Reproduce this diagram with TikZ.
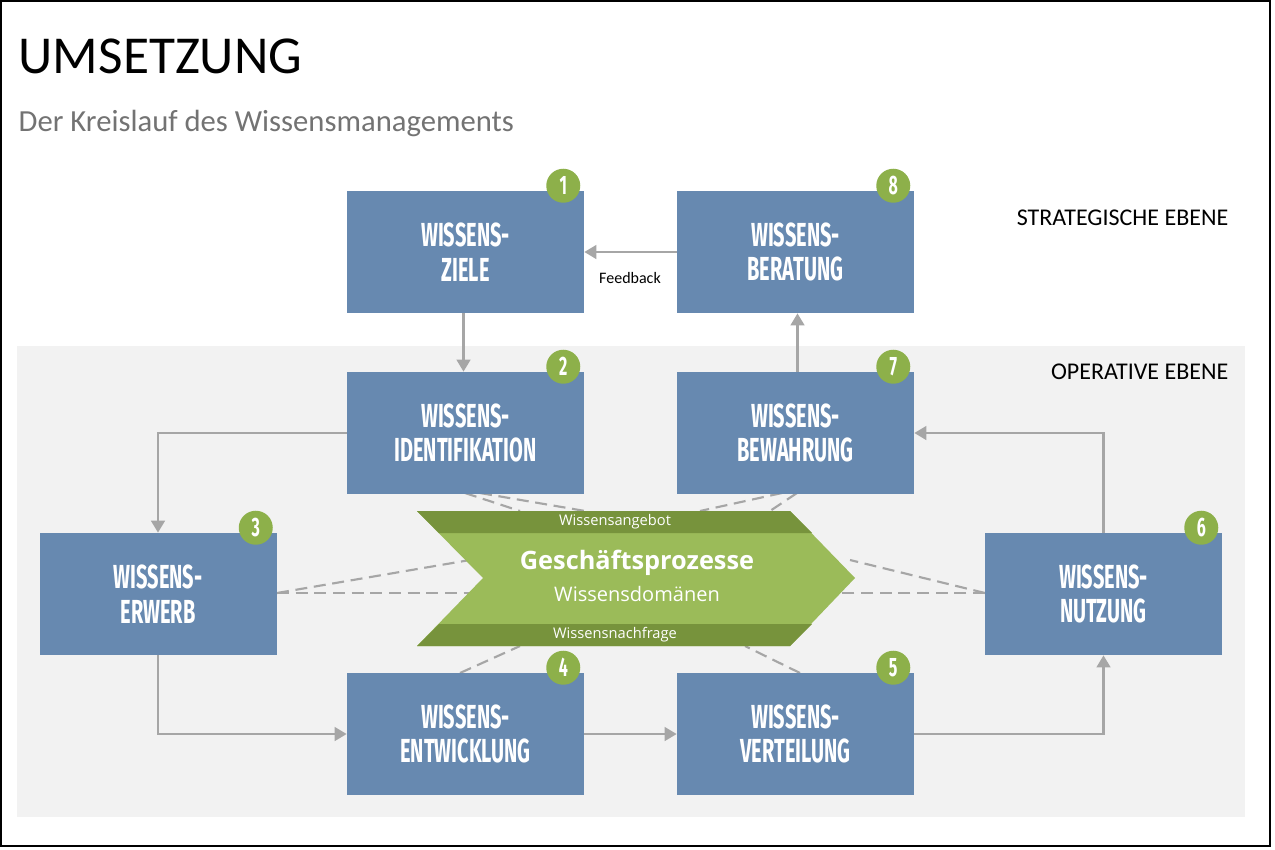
\documentclass[tikz,border=0pt]{standalone}
\usepackage{fontspec}
\setmainfont{Carlito}
\newfontfamily\cond[FakeStretch=0.6]{Fira Sans}
\newfontfamily\opens{Open Sans}
\usetikzlibrary{arrows.meta}
\definecolor{boxblue}{RGB}{103,137,176}
\definecolor{badge}{RGB}{141,176,74}
\definecolor{lgreen}{RGB}{155,187,89}
\definecolor{dgreen}{RGB}{119,147,60}
\definecolor{arr}{RGB}{166,166,166}
\definecolor{opbg}{RGB}{242,242,242}
\tikzset{
 box/.style={fill=boxblue,minimum width=177.75pt,minimum height=91.5pt,inner sep=0,text=white,align=center,font=\cond\bfseries\fontsize{25}{26}\selectfont},
 num/.style={circle,fill=badge,minimum size=25.5pt,inner sep=0,text=white,font=\cond\bfseries\fontsize{20}{20}\selectfont},
 conn/.style={draw=arr,line width=2.2pt,-{Triangle[length=9pt,width=10pt]}},
 dsh/.style={draw=arr,line width=1.6pt,dash pattern=on 9pt off 5pt},
 lvl/.style={font=\fontsize{18}{18}\selectfont,anchor=east}
}
\begin{document}
\begin{tikzpicture}[x=0.75pt,y=-0.75pt]
\useasboundingbox (0,0) rectangle (1275,850);
\fill[white] (0,0) rectangle (1275,850);
\draw[line width=1.2pt] (1,1) rectangle (1270,846);
\fill[opbg] (17,346) rectangle (1245,817);
\node[anchor=west,font=\fontsize{40}{40}\selectfont] (title) at (14,56) {UMSETZUNG};
\node[anchor=west,font=\fontsize{23}{23}\selectfont,text=black!55] (sub) at (14,123) {Der Kreislauf des Wissensmanagements};
\node[lvl] (strat) at (1233,218) {STRATEGISCHE EBENE};
\node[lvl] (oper) at (1233,372) {OPERATIVE EBENE};
% dashed
\coordinate (c2a) at (520,511); \coordinate (c2b) at (585,511);
\coordinate (c7a) at (700,511); \coordinate (c7b) at (770,511);
\coordinate (c3a) at (480,593); \coordinate (c3b) at (470,560);
\coordinate (c6a) at (840,593); \coordinate (c6b) at (850,560);
\coordinate (c4a) at (520,646); \coordinate (c5a) at (745,646);
\draw[dsh] (465,493) -- (c2a); \draw[dsh] (480,493) -- (c2b);
\draw[dsh] (797,493) -- (c7b); \draw[dsh] (782,493) -- (c7a);
\draw[dsh] (277,593) -- (c3a); \draw[dsh] (277,593) -- (c3b);
\draw[dsh] (985,593) -- (c6a); \draw[dsh] (985,593) -- (c6b);
\draw[dsh] (460,673) -- (c4a); \draw[dsh] (800,673) -- (c5a);
% chevron
\fill[lgreen] (417,511) -- (790,511) -- (855,578) -- (790,646) -- (417,646) -- (483,578) -- cycle;
\fill[dgreen] (417,511) -- (790,511) -- (812,533) -- (439,533) -- cycle;
\fill[dgreen] (439,624) -- (812,624) -- (790,646) -- (417,646) -- cycle;
\node[text=white,font=\opens\fontsize{11}{11}\selectfont] (ang) at (615,522) {Wissensangebot};
\node[text=white,font=\opens\fontsize{11}{11}\selectfont] (nach) at (615,635) {Wissensnachfrage};
\node[text=white,font=\opens\bfseries\fontsize{19}{19}\selectfont] (gp) at (637,563) {Geschäftsprozesse};
\node[text=white,font=\opens\fontsize{15}{15}\selectfont] (wd) at (637,594) {Wissensdomänen};
% boxes
\node[box] (b1) at (465.5,252) {WISSENS-\\ZIELE};
\node[box] (b8) at (795.5,252) {WISSENS-\\BERATUNG};
\node[box] (b2) at (465.5,433) {WISSENS-\\IDENTIFIKATION};
\node[box] (b7) at (795.5,433) {WISSENS-\\BEWAHRUNG};
\node[box] (b3) at (158,594) {WISSENS-\\ERWERB};
\node[box] (b6) at (1103.5,594) {WISSENS-\\NUTZUNG};
\node[box] (b4) at (465.5,734) {WISSENS-\\ENTWICKLUNG};
\node[box] (b5) at (795.5,734) {WISSENS-\\VERTEILUNG};
\foreach \b/\n in {b1/1,b8/8,b2/2,b7/7,b3/3,b6/6,b4/4,b5/5}
  \node[num] (n\n) at ([xshift=-15.75pt,yshift=3.75pt]\b.north east) {\n};
% arrows
\draw[conn] ([xshift=-1.5pt]b1.south) -- ([xshift=-1.5pt]b2.north);
\draw[conn] ([xshift=1.5pt]b7.north) -- ([xshift=1.5pt]b8.south);
\draw[conn] (b8.west) -- (b1.east);
\node[font=\fontsize{12}{12}\selectfont] (fb) at (630,278) {Feedback};
\draw[conn] (b2.west) -| (b3.north);
\draw[conn] (b3.south) |- (b4.west);
\draw[conn] (b4.east) -- (b5.west);
\draw[conn] (b5.east) -| (b6.south);
\draw[conn] (b6.north) |- (b7.east);
\end{tikzpicture}
\end{document}
